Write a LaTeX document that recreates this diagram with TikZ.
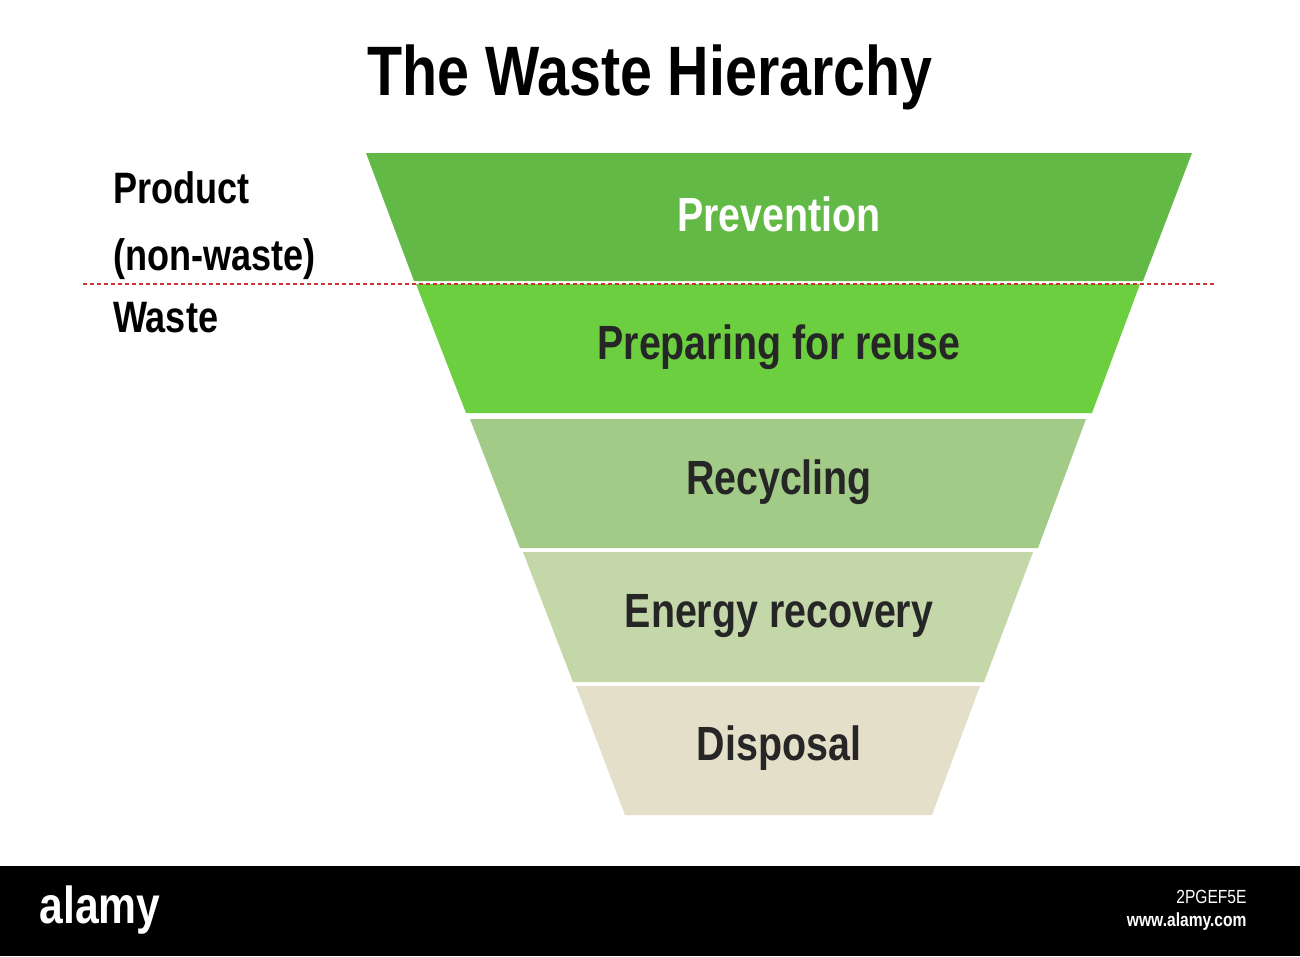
\documentclass[tikz,border=0pt]{standalone}
\usepackage{fontspec}
\setmainfont{Liberation Sans}[FakeStretch=0.82]
\begin{document}
\begin{tikzpicture}[x=1pt,y=-1pt,
  lvl/.style={draw=none},
  lbl/.style={font=\bfseries\fontsize{48}{52}\selectfont, text=black!85},
  side/.style={font=\bfseries\fontsize{44}{48}\selectfont, anchor=base west, inner sep=0pt}]
\useasboundingbox (0,0) rectangle (1300,956);
\fill[white] (0,0) rectangle (1300,956);
\definecolor{c1}{HTML}{63B946}\definecolor{c2}{HTML}{6CCF3F}
\definecolor{c3}{HTML}{A1CB86}\definecolor{c4}{HTML}{C3D7A8}\definecolor{c5}{HTML}{E3DFC8}
\fill[c1] (366,153) -- (1192,153) -- (1143,281) -- (414,281) -- cycle;
\fill[c2] (416,284) -- (1140,284) -- (1092,413) -- (466,413) -- cycle;
\fill[c3] (470,419) -- (1086,419) -- (1038,548) -- (520,548) -- cycle;
\fill[c4] (523,552) -- (1033,552) -- (984,682) -- (573,682) -- cycle;
\fill[c5] (576,686) -- (980,686) -- (932,815) -- (625,815) -- cycle;
\node (title) at (650,77) {\bfseries\fontsize{70}{74}\selectfont The Waste Hierarchy};
\node[lbl,text=white] (p1) at (779,214) {Prevention};
\node[lbl] (p2) at (779,347) {Preparing for reuse};
\node[lbl] (p3) at (779,482) {Recycling};
\node[lbl] (p4) at (779,616) {Energy recovery};
\node[lbl] (p5) at (779,748) {Disposal};
\node[side] (s1) at (113,203) {Product};
\node[side] (s2) at (113,270) {(non-waste)};
\node[side] (s3) at (113,332) {Waste};
\coordinate (dl) at (83,284); \coordinate (dr) at (1215,284);
\draw[red!75!black!80, line width=2pt, dash pattern=on 4pt off 3pt] (dl) -- (dr);
\fill[black] (0,866) rectangle (1300,956);
\node[text=white, font=\bfseries\fontsize{52}{56}\selectfont] (al) at (100,910) {alamy};
\node[text=white, font=\fontsize{19}{22}\selectfont, anchor=east] (id) at (1250,897) {2PGEF5E};
\node[text=white, font=\bfseries\fontsize{19}{22}\selectfont, anchor=east] (url) at (1250,922) {www.alamy.com};
\end{tikzpicture}
\end{document}
